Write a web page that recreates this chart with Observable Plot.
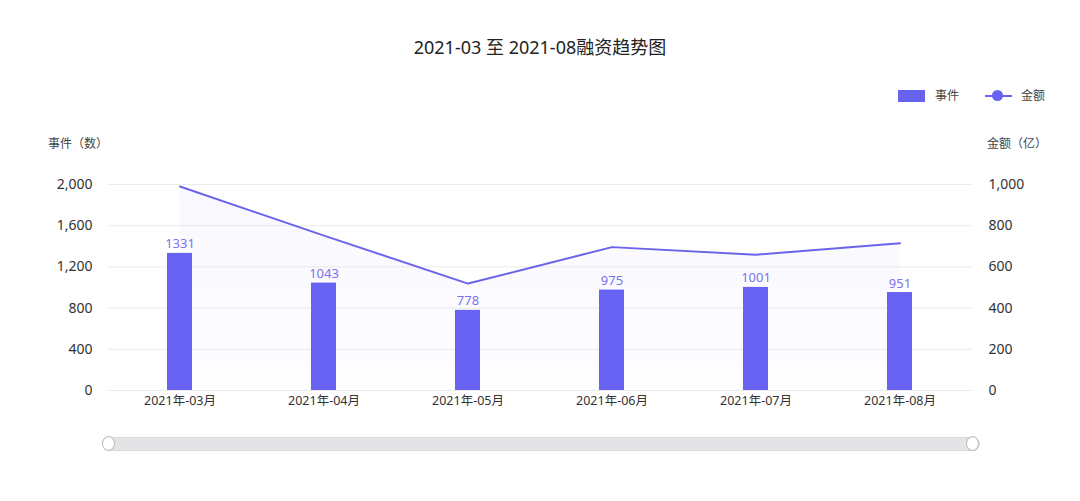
<!DOCTYPE html>
<html><head><meta charset="utf-8">
<script src="https://cdn.jsdelivr.net/npm/d3@7"></script>
<script src="https://cdn.jsdelivr.net/npm/@observablehq/plot@0.6"></script>
<style>
html,body{margin:0;padding:0;background:#fff;}
#wrap{position:relative;width:1080px;height:501px;font-family:"Noto Sans","Noto Sans CJK SC",sans-serif;color:#333;overflow:hidden;}
.abs{position:absolute;white-space:nowrap;}
#title{left:0;width:1080px;top:33px;text-align:center;font-size:18px;color:#222;}
.lg{font-size:12px;color:#444;}
.axt{font-size:12px;color:#444;}
#chart{position:absolute;left:0;top:130px;}
#slider{left:103px;top:437px;width:875px;height:12px;background:#e4e4e7;border:1px solid #d9d9dc;border-radius:7px;}
.handle{top:436px;width:11px;height:13px;background:#fff;border:1px solid #bbb;border-radius:50%;}
</style></head>
<body><div id="wrap">
<div id="title" class="abs">2021-03 至 2021-08融资趋势图</div>
<div class="abs" style="left:898px;top:90px;width:27px;height:12px;background:#6762f1;"></div>
<div class="abs lg" style="left:935px;top:86px;">事件</div>
<div class="abs" style="left:985px;top:95px;width:27px;height:2px;background:#6762f1;"></div>
<div class="abs" style="left:992px;top:90px;width:11px;height:11px;border-radius:50%;background:#6762f1;"></div>
<div class="abs lg" style="left:1021px;top:86px;">金额</div>
<div class="abs axt" style="left:48px;top:134px;">事件（数）</div>
<div class="abs axt" style="left:987px;top:134px;">金额（亿）</div>
<div id="chart"></div>
<div id="slider" class="abs"></div>
<div class="abs handle" style="left:102px;"></div>
<div class="abs handle" style="left:966px;"></div>
</div>
<script>
const months = ["2021年-03月","2021年-04月","2021年-05月","2021年-06月","2021年-07月","2021年-08月"];
const events = [1331, 1043, 778, 975, 1001, 951];
const amounts = [990, 752, 519, 696, 659, 715];
const leftTicks = [0, 400, 800, 1200, 1600, 2000];

const data = months.map((m, i) => ({month: m, events: events[i], amount: amounts[i], amt2: amounts[i] * 2}));

const gradient = () => {
  const defs = d3.create("svg:defs");
  const g = defs.append("linearGradient").attr("id", "areaGrad").attr("x1", 0).attr("y1", 0).attr("x2", 0).attr("y2", 1);
  g.append("stop").attr("offset", "0%").attr("stop-color", "#6762f1").attr("stop-opacity", 0.045);
  g.append("stop").attr("offset", "100%").attr("stop-color", "#6762f1").attr("stop-opacity", 0.01);
  return defs.node();
};

const chart = Plot.plot({
  width: 1080,
  height: 290,
  marginTop: 54,
  marginBottom: 30,
  marginLeft: 108,
  marginRight: 108,
  style: {fontFamily: '"Noto Sans","Noto Sans CJK SC",sans-serif', color: "#333", background: "transparent"},
  x: {domain: months, paddingInner: 0.826, paddingOuter: 0.413, label: null},
  y: {domain: [0, 2000], label: null},
  marks: [
    gradient,
    Plot.gridY(leftTicks, {stroke: "#ececec", strokeOpacity: 1}),
    Plot.areaY(data, {x: "month", y: "amt2", fill: "url(#areaGrad)"}),
    Plot.barY(data, {x: "month", y: "events", fill: "#6762f1"}),
    Plot.lineY(data, {x: "month", y: "amt2", stroke: "#6b64ea", strokeWidth: 2}),
    Plot.text(data, {x: "month", y: "events", text: d => String(d.events), lineAnchor: "bottom", dy: -5, fill: "#7a72ef", fontSize: 13}),
    Plot.axisX({tickSize: 0, tickPadding: 6, fontSize: 12.5, label: null}),
    Plot.axisY(leftTicks, {anchor: "left", tickSize: 0, tickPadding: 16, fontSize: 14, tickFormat: d3.format(","), label: null}),
    Plot.axisY(leftTicks, {anchor: "right", tickSize: 0, tickPadding: 16, fontSize: 14, tickFormat: d => d3.format(",")(d / 2), label: null})
  ]
});
document.getElementById("chart").appendChild(chart);
</script>
</body></html>
